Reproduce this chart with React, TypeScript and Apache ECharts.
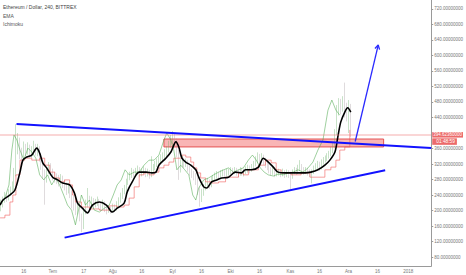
import React, { useEffect, useRef } from 'react';
import * as echarts from 'echarts';

// ---------- data ----------
const titleLines = ['Ethereum / Dollar, 240, BITTREX', 'EMA', 'Ichimoku'];

// x axis: days since 1 June 2017
const xTickDays = [15, 30, 46, 61, 76, 92, 107, 122, 137, 153, 168, 183, 198, 214];
const xTickLabels = ['16', 'Tem', '17', 'Ağu', '16', 'Eyl', '16', 'Eki', '16', 'Kas', '16', 'Ara', '16', '2018'];
const yTicks = [80, 120, 160, 200, 240, 280, 320, 360, 440, 480, 520, 560, 600, 640, 680, 720];

// [day, open, close, low, high]
const candles = [
  [3, 205, 215, 198, 228], [4, 215, 226, 208, 236], [5, 226, 236, 220, 248], [6, 236, 230, 222, 245],
  [7, 230, 246, 226, 255], [8, 246, 252, 238, 262], [9, 252, 258, 246, 275], [10, 258, 292, 252, 310],
  [11, 292, 372, 288, 423], [12, 372, 378, 345, 400], [13, 378, 350, 332, 388], [14, 350, 340, 318, 362],
  [15, 340, 366, 330, 378], [16, 366, 355, 340, 372], [17, 355, 362, 344, 376], [18, 362, 346, 335, 370],
  [19, 346, 352, 336, 366], [20, 352, 366, 344, 380], [21, 366, 355, 342, 372], [22, 355, 360, 340, 372],
  [23, 360, 340, 326, 366], [24, 340, 320, 305, 348], [25, 320, 300, 282, 328], [26, 300, 280, 215, 306],
  [27, 280, 302, 272, 312], [28, 302, 315, 294, 325], [29, 315, 300, 290, 322], [30, 300, 290, 278, 308],
  [31, 290, 285, 272, 300], [32, 285, 280, 268, 296], [33, 280, 275, 262, 292], [34, 275, 282, 266, 294],
  [35, 282, 270, 258, 290], [36, 270, 265, 252, 280], [37, 265, 255, 240, 272], [38, 255, 262, 244, 270],
  [39, 262, 245, 232, 266], [40, 245, 230, 205, 252], [41, 230, 215, 200, 238], [42, 215, 200, 188, 225],
  [43, 200, 208, 190, 220], [44, 208, 186, 172, 212], [45, 186, 160, 144, 192], [46, 160, 196, 152, 205],
  [47, 196, 216, 190, 228], [48, 216, 232, 208, 258], [49, 232, 220, 210, 238], [50, 220, 226, 212, 236],
  [51, 226, 215, 204, 232], [52, 215, 222, 208, 230], [53, 222, 226, 212, 236], [54, 226, 215, 204, 230],
  [55, 215, 210, 198, 222], [56, 210, 220, 204, 228], [57, 220, 205, 196, 224], [58, 205, 200, 190, 212],
  [59, 200, 206, 194, 214], [60, 206, 200, 192, 210], [61, 200, 210, 196, 218], [62, 210, 205, 196, 216],
  [63, 205, 216, 200, 224], [64, 216, 226, 210, 234], [65, 226, 236, 220, 246], [66, 236, 250, 230, 258],
  [67, 250, 256, 242, 266], [68, 256, 272, 250, 282], [69, 272, 286, 266, 296], [70, 286, 290, 278, 300],
  [71, 290, 300, 284, 310], [72, 300, 295, 286, 306], [73, 295, 300, 288, 310], [74, 300, 306, 292, 316],
  [75, 306, 295, 286, 312], [76, 295, 300, 288, 308], [77, 300, 306, 294, 314], [78, 306, 295, 286, 310],
  [79, 295, 300, 288, 308], [80, 300, 290, 282, 304], [81, 290, 305, 286, 340], [82, 305, 310, 298, 320],
  [83, 310, 320, 304, 328], [84, 320, 325, 312, 334], [85, 325, 330, 318, 340], [86, 330, 335, 322, 345],
  [87, 335, 340, 328, 350], [88, 340, 346, 332, 358], [89, 346, 356, 338, 366], [90, 356, 370, 350, 380],
  [91, 370, 385, 362, 395], [92, 385, 390, 372, 405], [93, 390, 380, 365, 398], [94, 380, 350, 338, 386],
  [95, 350, 310, 279, 356], [96, 310, 320, 298, 332], [97, 320, 330, 312, 342], [98, 330, 320, 310, 336],
  [99, 320, 326, 312, 334], [100, 326, 310, 300, 330], [101, 310, 300, 290, 316], [102, 300, 295, 284, 308],
  [103, 295, 290, 278, 302], [104, 290, 280, 266, 296], [105, 280, 255, 240, 286], [106, 255, 230, 210, 262],
  [107, 230, 245, 222, 256], [108, 245, 260, 238, 268], [109, 260, 270, 252, 278], [110, 270, 275, 262, 284],
  [111, 275, 265, 256, 280], [112, 265, 280, 260, 288], [113, 280, 285, 274, 292], [114, 285, 290, 278, 298],
  [115, 290, 295, 282, 302], [116, 295, 290, 280, 300], [117, 290, 295, 284, 304], [118, 295, 300, 288, 306],
  [119, 300, 295, 286, 304], [120, 295, 300, 288, 308], [121, 300, 300, 290, 308], [122, 300, 305, 294, 312],
  [123, 305, 300, 292, 310], [124, 300, 305, 294, 312], [125, 305, 300, 290, 310], [126, 300, 295, 286, 306],
  [127, 295, 305, 290, 312], [128, 305, 300, 290, 310], [129, 300, 300, 288, 308], [130, 300, 305, 294, 314],
  [131, 305, 310, 298, 318], [132, 310, 305, 296, 316], [133, 305, 310, 300, 320], [134, 310, 320, 304, 328],
  [135, 320, 330, 314, 340], [136, 330, 340, 322, 350], [137, 340, 335, 324, 346], [138, 335, 340, 326, 348],
  [139, 340, 330, 318, 344], [140, 330, 320, 310, 336], [141, 320, 315, 304, 326], [142, 315, 305, 296, 320],
  [143, 305, 300, 290, 312], [144, 300, 305, 292, 312], [145, 305, 295, 286, 310], [146, 295, 300, 288, 306],
  [147, 300, 300, 290, 308], [148, 300, 295, 286, 304], [149, 295, 300, 288, 308], [150, 300, 295, 284, 304],
  [151, 295, 300, 286, 306], [152, 300, 295, 284, 304], [153, 295, 290, 255, 300], [154, 290, 300, 282, 306],
  [155, 300, 305, 294, 312], [156, 305, 300, 292, 310], [157, 300, 310, 294, 318], [158, 310, 315, 302, 330],
  [159, 315, 305, 296, 320], [160, 305, 300, 292, 312], [161, 300, 305, 294, 312], [162, 305, 300, 290, 310],
  [163, 300, 295, 286, 306], [164, 295, 300, 270, 306], [165, 300, 310, 294, 316], [166, 310, 315, 304, 322],
  [167, 315, 320, 308, 328], [168, 320, 310, 302, 326], [169, 310, 325, 306, 332], [170, 325, 330, 318, 338],
  [171, 330, 335, 324, 342], [172, 335, 340, 328, 348], [173, 340, 345, 334, 354], [174, 345, 355, 340, 364],
  [175, 355, 365, 348, 376], [176, 365, 400, 360, 410], [177, 400, 460, 395, 472], [178, 460, 478, 445, 490],
  [179, 478, 465, 448, 488], [180, 465, 482, 455, 495], [181, 482, 470, 440, 530], [182, 470, 452, 430, 478],
  [183, 452, 470, 400, 485], [184, 470, 395, 390, 475],
];

const emaLine = [
  [2.7, 214], [4.2, 227], [7.8, 240], [10.4, 253], [13.0, 299], [14.5, 330], [16.5, 338], [19.1, 343],
  [21.7, 361], [23.2, 348], [24.8, 323], [26.8, 310], [29.9, 286], [32.5, 279], [35.1, 271], [38.7, 266],
  [41.2, 245], [42.8, 219], [45.3, 206], [47.9, 194], [50.5, 214], [54.1, 222], [57.7, 214], [60.8, 196],
  [63.3, 206], [66.9, 219], [68.5, 248], [71.1, 274], [74.7, 299], [78.3, 299], [81.3, 297], [83.4, 299],
  [84.9, 317], [88.5, 335], [91.1, 351], [93.7, 377], [95.2, 364], [96.8, 335], [98.8, 325], [101.4, 317],
  [104.0, 305], [105.5, 286], [108.1, 261], [109.6, 258], [112.2, 274], [114.8, 279], [117.3, 284], [120.9, 286],
  [124.5, 299], [127.6, 297], [129.7, 305], [132.8, 305], [136.4, 312], [138.9, 335], [141.5, 325], [144.1, 312],
  [146.6, 299], [150.2, 297], [153.3, 297], [156.9, 297], [160.5, 297], [163.6, 299], [167.2, 305], [170.8, 317],
  [173.4, 330], [176.0, 351], [177.5, 390], [179.0, 428], [181.1, 454], [182.6, 465], [184.2, 454],
];

const ichimokuGreen = [
  [2.7, 214], [5.2, 232], [7.3, 266], [8.8, 356], [9.9, 395], [11.4, 382], [13.0, 356], [15.0, 330],
  [17.1, 361], [19.1, 351], [21.2, 335], [23.2, 292], [25.3, 279], [27.3, 292], [29.4, 266], [31.5, 284],
  [33.5, 266], [35.6, 240], [37.6, 214], [39.7, 201], [41.7, 163], [43.3, 201], [44.8, 240], [46.9, 214],
  [48.9, 227], [51.5, 201], [54.1, 196], [56.7, 206], [59.2, 214], [61.3, 240], [63.3, 266], [65.4, 279],
  [67.4, 305], [69.5, 292], [72.1, 299], [74.7, 299], [77.2, 317], [79.8, 330], [82.4, 330], [84.9, 343],
  [87.5, 382], [89.0, 400], [91.1, 382], [92.6, 356], [94.2, 305], [96.2, 317], [98.3, 305], [100.4, 292],
  [102.4, 240], [104.0, 227], [105.5, 258], [108.1, 279], [110.6, 284], [113.2, 292], [115.8, 299], [118.4, 305],
  [120.9, 310], [123.5, 299], [126.1, 305], [128.6, 310], [131.2, 330], [133.3, 343], [135.3, 330], [137.4, 310],
  [139.4, 299], [141.5, 292], [144.1, 289], [146.6, 294], [149.2, 292], [151.8, 297], [154.4, 299], [156.9, 305],
  [159.5, 299], [162.1, 310], [164.6, 325], [167.2, 356], [169.8, 382], [172.4, 459], [174.4, 485], [176.5, 459],
  [178.5, 446],
];

const ichimokuRed = [
  [2.7, 181], [5.2, 188], [7.8, 222], [9.3, 240], [10.9, 292], [13, 330], [15.5, 335], [19.1, 330],
  [23.2, 335], [25.8, 317], [28.4, 299], [31, 284], [33.5, 274], [36.1, 279], [38.7, 266], [40.2, 240],
  [41.7, 222], [44.8, 209], [49, 204], [54.1, 201], [59.2, 212], [63.3, 209], [66.9, 214], [69.5, 232],
  [72.1, 261], [74.7, 292], [77.2, 297], [79.8, 292], [82.4, 299], [84.9, 310], [87.5, 317], [90.1, 325],
  [92.6, 335], [95.2, 335], [96.8, 343], [98.8, 338], [101.4, 325], [102.9, 310], [104.5, 297], [106.5, 284],
  [109.1, 274], [112.2, 271], [115.8, 274], [119.4, 286], [122.5, 286], [126.1, 297], [128.6, 292], [131.2, 305],
  [136.4, 317], [140, 330], [143, 323], [145.6, 305], [148.2, 297], [153.3, 292], [158.5, 297], [163.1, 286],
  [167.2, 286], [170.8, 305], [173.9, 312], [176.5, 330], [178.5, 356], [181.1, 364], [183.7, 408],
];

// drawings (in data units: day, price)
const descLine = [[11.2, 423], [225.8, 361]];
const ascLine = [[36.1, 130], [202.0, 304]];
const arrowShaft = [[186.5, 378], [198.4, 627]];
const arrowHead = [[196.7, 618], [198.4, 627], [199.1, 615]];
const zone = [[87.5, 384.5], [201.2, 364]];
const lastPrice = 394.6236;
const lastPriceText = '394.62360000';
const countdown = '01:48:59';

const FONT = 'Arial, "Liberation Sans", sans-serif';

export default function App() {
  const ref = useRef<HTMLDivElement>(null);
  useEffect(() => {
    if (!ref.current) return;
    const chart = echarts.init(ref.current, undefined, { renderer: 'svg' });
    const labelMap: Record<number, string> = {};
    xTickDays.forEach((d, i) => { labelMap[d] = xTickLabels[i]; });

    chart.setOption({
      animation: false,
      backgroundColor: '#ffffff',
      textStyle: { fontFamily: FONT },
      grid: { left: 0, right: 32, top: 0, bottom: 9, containLabel: false },
      xAxis: {
        type: 'value',
        min: 2.66,
        max: 225.83,
        axisLine: { show: true, lineStyle: { color: '#9a9a9a', width: 1 } },
        axisTick: { show: false },
        splitLine: { show: false },
        axisLabel: {
          customValues: xTickDays,
          formatter: (v: number) => labelMap[v] ?? '',
          fontSize: 4.5,
          color: '#777',
          margin: 2.5,
          fontFamily: FONT,
        },
      },
      yAxis: {
        type: 'value',
        position: 'right',
        min: 56.8,
        max: 743.2,
        axisLine: { show: true, lineStyle: { color: '#9a9a9a', width: 1 } },
        axisTick: { show: true, customValues: yTicks, length: 2, lineStyle: { color: '#9a9a9a' } },
        splitLine: { show: false },
        axisLabel: {
          customValues: yTicks,
          formatter: (v: number) => v.toFixed(8),
          fontSize: 4.5,
          color: '#777',
          margin: 3,
          fontFamily: FONT,
        },
      },
      graphic: titleLines.map((t, i) => ({
        type: 'text',
        x: 3,
        y: 7.3 + i * 8.4,
        style: {
          text: t,
          fill: i === 0 ? '#444' : '#555',
          fontSize: 5,
          fontFamily: FONT,
          verticalAlign: 'middle',
        },
      })),
      series: [
        {
          type: 'line',
          name: 'Ichimoku B',
          data: ichimokuRed,
          step: 'end',
          showSymbol: false,
          symbol: 'none',
          lineStyle: { color: 'rgba(239,83,80,0.7)', width: 0.8 },
          z: 2,
        },
        {
          type: 'candlestick',
          name: 'ETH',
          dimensions: ['day', 'open', 'close', 'lowest', 'highest'],
          encode: { x: 'day', y: ['open', 'close', 'lowest', 'highest'] },
          data: candles,
          barMaxWidth: 1.3,
          itemStyle: {
            color: '#6cb26c',
            color0: '#a89ea3',
            borderColor: '#6cb26c',
            borderColor0: '#a89ea3',
            borderWidth: 0.5,
            opacity: 0.75,
          },
          markLine: {
            silent: true,
            symbol: 'none',
            data: [{ yAxis: lastPrice }],
            lineStyle: { color: 'rgba(240,120,120,0.3)', width: 2, type: 'solid' },
            label: {
              show: true,
              position: 'end',
              distance: 1,
              formatter: '{e|}\n{a|' + lastPriceText + '}\n{b|' + countdown + '}',
              rich: {
                e: { height: 6.5, lineHeight: 6.5, fontSize: 4.5 },
                a: {
                  fontSize: 4.5, color: '#fff', backgroundColor: '#ec6a6a',
                  height: 5.5, lineHeight: 6.5, padding: [0, 1, 0, 1], fontFamily: FONT,
                },
                b: {
                  fontSize: 4.8, color: '#fff', backgroundColor: '#ec6a6a',
                  height: 6.5, lineHeight: 7, padding: [0, 2, 0, 4], fontFamily: FONT,
                },
              },
            },
          },
          z: 1,
        },
        {
          type: 'line',
          name: 'Ichimoku lagging',
          data: ichimokuGreen,
          showSymbol: false,
          symbol: 'none',
          lineStyle: { color: 'rgba(70,165,70,0.75)', width: 0.7 },
          z: 3,
        },
        {
          type: 'line',
          name: 'EMA',
          data: emaLine,
          showSymbol: false,
          symbol: 'none',
          smooth: 0.3,
          lineStyle: { color: '#000000', width: 1.6 },
          z: 4,
        },
        {
          type: 'line',
          name: 'trend down',
          data: descLine,
          showSymbol: false,
          symbol: 'none',
          lineStyle: { color: '#1212ff', width: 2 },
          z: 5,
        },
        {
          type: 'line',
          name: 'trend up',
          data: ascLine,
          showSymbol: false,
          symbol: 'none',
          lineStyle: { color: '#1212ff', width: 2 },
          z: 5,
        },
        {
          type: 'line',
          name: 'arrow',
          data: arrowShaft,
          showSymbol: false,
          symbol: 'none',
          lineStyle: { color: '#2a2aff', width: 1.3 },
          z: 5,
        },
        {
          type: 'line',
          name: 'arrow head',
          data: arrowHead,
          showSymbol: false,
          symbol: 'none',
          lineStyle: { color: '#2a2aff', width: 1.3 },
          z: 5,
        },
        {
          type: 'line',
          name: 'zone',
          data: [],
          markArea: {
            silent: true,
            itemStyle: {
              color: 'rgba(242,90,90,0.45)',
              borderColor: 'rgba(225,70,70,0.9)',
              borderWidth: 1,
            },
            data: [[{ coord: zone[0] }, { coord: zone[1] }]],
          },
          z: 6,
        },
      ],
    });
    return () => chart.dispose();
  }, []);

  return (
    <div
      ref={ref}
      style={{ position: 'fixed', left: 0, top: 0, width: 466, height: 275, background: '#fff' }}
    />
  );
}
